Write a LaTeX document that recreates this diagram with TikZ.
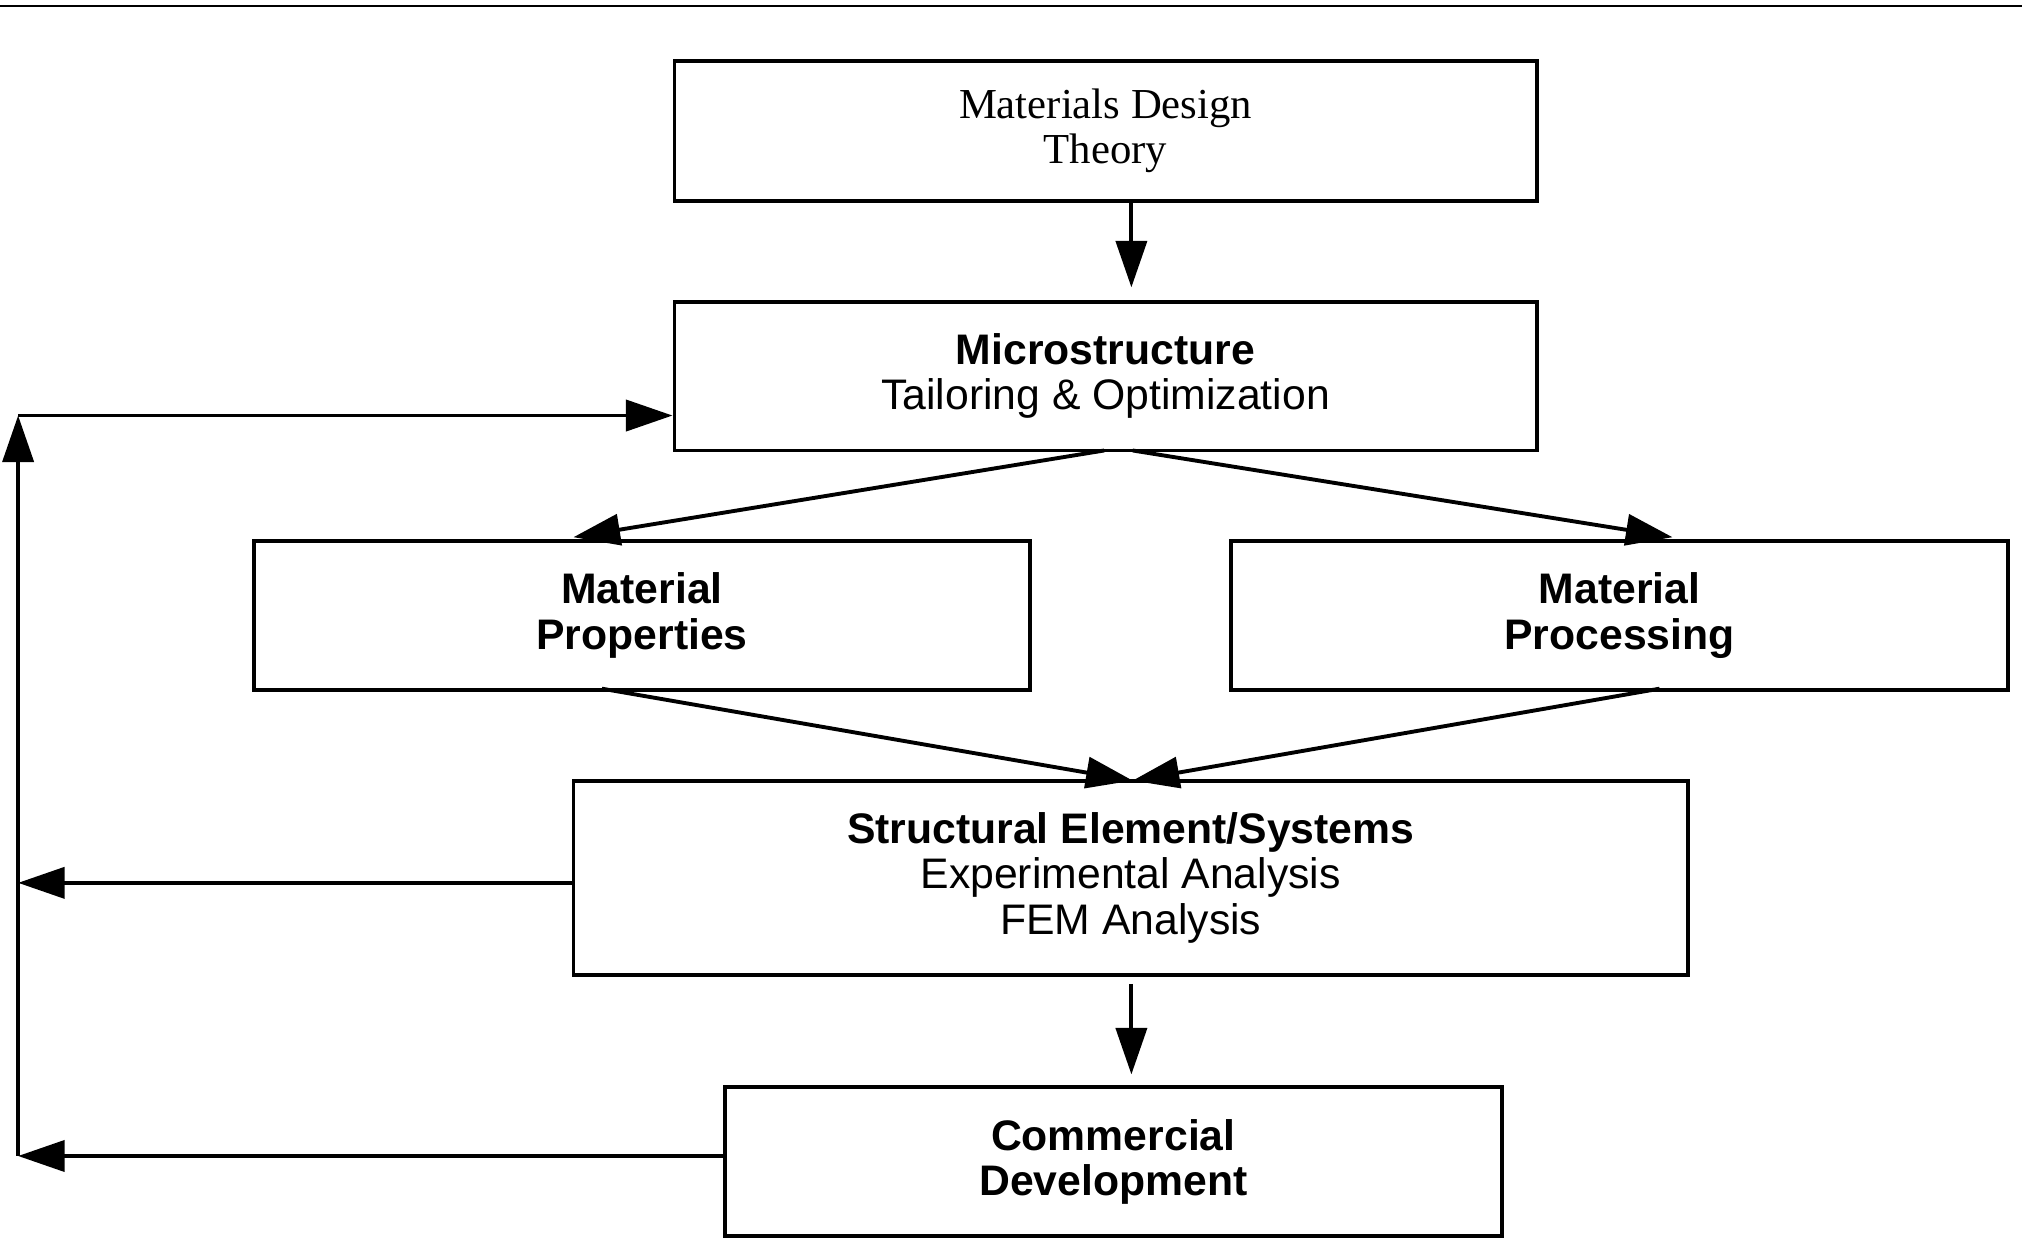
\documentclass[tikz,border=0pt]{standalone}
\usepackage{fontspec}
\setmainfont{Liberation Sans}
\newfontfamily\tms{Liberation Serif}
\usetikzlibrary{arrows.meta,calc}
\begin{document}
\begin{tikzpicture}[x=1pt,y=-1pt,
  box/.style={draw,line width=3pt,align=center,inner sep=0pt,
    font=\fontsize{33}{35}\selectfont},
  conn/.style={line width=3pt,-{Triangle[length=36pt,width=24pt]}},
  wire/.style={line width=3pt}]
\useasboundingbox (0,0) rectangle (1562,957);
\draw[line width=1.5pt] (0,5) -- (1562,5);

\node[box,minimum width=666pt,minimum height=108pt,font=\fontsize{33}{35}\tms] (b1) at (854,101) {Materials Design\\Theory};
\node[box,minimum width=666pt,minimum height=115pt] (b2) at (854,290.5) {\textbf{Microstructure}\\Tailoring \& Optimization};
\node[box,minimum width=600pt,minimum height=115pt] (b3) at (496,475.5) {\textbf{Material}\\\textbf{Properties}};
\node[box,minimum width=600pt,minimum height=115pt] (b4) at (1251,475.5) {\textbf{Material}\\\textbf{Processing}};
\node[box,minimum width=861pt,minimum height=150pt] (b5) at (873.5,678) {\textbf{Structural Element/Systems}\\Experimental Analysis\\FEM Analysis};
\node[box,minimum width=600pt,minimum height=115pt] (b6) at (860,897.5) {\textbf{Commercial}\\\textbf{Development}};

\coordinate (c1) at (874,222);
\coordinate (s2a) at (853,348);
\coordinate (s2b) at (875,348);
\coordinate (t3) at (443,415);
\coordinate (t4) at (1292,415);
\coordinate (s3) at (465,532);
\coordinate (s4) at (1282,532);
\coordinate (t5) at (875,603);
\coordinate (s5) at (874,760);
\coordinate (t6) at (874,830);
\coordinate (lb) at (14,893);
\coordinate (lt) at (14,321);
\coordinate (lm) at (14,682);

\draw[conn] (874,155) -- (c1);
\draw[conn] (s2a) -- (t3);
\draw[conn] (s2b) -- (t4);
\draw[conn] (s3) -- (t5);
\draw[conn] (s4) -- (t5);
\draw[conn] (s5) -- (t6);
\draw[conn] (b5.west |- lm) -- (lm);
\draw[conn] (b6.west |- lb) -- (lb);
\draw[conn] (lb) -- (lt);
\draw[conn] (lt) -- (b2.west |- lt);
\end{tikzpicture}
\end{document}
